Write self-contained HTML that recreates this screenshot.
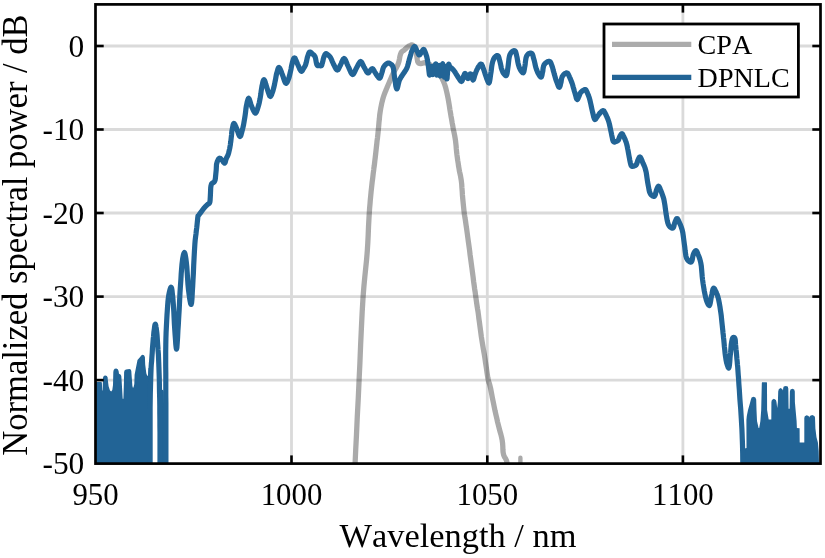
<!DOCTYPE html>
<html><head><meta charset="utf-8"><title>Spectrum</title>
<style>html,body{margin:0;padding:0;background:#fff}svg{display:block}</style></head>
<body>
<svg width="825" height="558" viewBox="0 0 825 558">
<defs><clipPath id="ax"><rect x="95.5" y="4.4" width="725.0" height="459.2"/></clipPath></defs>
<rect width="825" height="558" fill="#fff"/>
<g stroke="#dadada" stroke-width="2.8">
<line x1="291.5" y1="4.4" x2="291.5" y2="463.6"/>
<line x1="487.3" y1="4.4" x2="487.3" y2="463.6"/>
<line x1="682.9" y1="4.4" x2="682.9" y2="463.6"/>
<line x1="95.5" y1="46.0" x2="820.5" y2="46.0"/>
<line x1="95.5" y1="129.5" x2="820.5" y2="129.5"/>
<line x1="95.5" y1="213.0" x2="820.5" y2="213.0"/>
<line x1="95.5" y1="296.6" x2="820.5" y2="296.6"/>
<line x1="95.5" y1="380.1" x2="820.5" y2="380.1"/>
</g>
<g clip-path="url(#ax)" fill="none" stroke-linejoin="round" stroke-linecap="round">
<polyline points="354.8,470.0 354.9,468.3 354.9,466.8 355.0,465.2 355.1,463.4 355.2,461.0 355.7,450.0 356.5,434.5 357.3,416.4 358.3,397.6 359.1,380.0 359.9,363.0 360.6,345.5 361.4,328.1 362.2,311.6 363.1,296.5 363.9,286.5 364.8,277.1 365.7,268.3 366.6,259.6 367.3,251.0 367.8,243.0 368.2,235.0 368.5,227.2 368.9,219.7 369.3,212.9 369.6,208.3 370.0,204.0 370.3,200.0 370.7,195.9 371.1,191.8 371.6,187.3 372.1,182.6 372.7,178.1 373.2,173.8 373.7,170.0 373.9,168.0 374.2,166.3 374.4,164.6 374.6,162.9 374.8,161.0 375.2,157.9 375.6,154.4 376.0,150.7 376.4,147.1 376.8,143.6 377.1,140.6 377.5,137.8 377.8,134.9 378.1,132.1 378.4,129.1 378.7,125.7 379.0,122.1 379.4,118.6 379.7,115.0 380.2,111.6 380.7,108.6 381.3,105.6 381.9,102.6 382.6,99.8 383.4,97.0 384.2,94.6 385.1,92.2 386.1,89.9 387.0,87.6 388.0,85.3 389.0,82.9 390.0,80.6 391.0,78.2 392.0,75.9 393.1,73.6 394.2,71.5 395.3,69.5 396.4,67.6 397.4,65.6 398.3,63.5 399.0,61.2 399.5,58.8 399.9,56.4 400.5,54.2 401.2,52.5 401.8,51.8 402.4,51.2 403.1,50.8 403.8,50.3 404.5,49.8 405.3,49.1 406.1,48.3 406.9,47.6 407.7,46.9 408.6,46.3 409.4,45.8 410.3,45.4 411.1,45.0 412.0,44.9 412.7,45.0 413.5,45.7 414.3,47.0 414.9,48.6 415.5,50.3 416.0,52.0 416.5,54.2 416.9,56.8 417.3,59.4 417.7,61.6 418.5,63.0 419.0,63.3 419.6,63.5 420.3,63.6 420.9,63.5 421.5,63.5 422.1,63.4 422.6,63.2 423.2,63.0 423.8,62.8 424.4,62.7 425.1,62.7 425.8,62.8 426.6,63.0 427.3,63.2 428.0,63.5 428.7,63.8 429.4,64.3 430.1,64.7 430.8,65.2 431.6,65.8 432.8,66.7 434.1,67.6 435.5,68.6 436.8,69.8 438.0,71.0 439.1,72.5 440.1,74.2 441.0,76.0 441.8,77.8 442.6,79.5 443.2,80.7 443.7,81.9 444.1,83.0 444.6,84.2 445.0,85.5 445.6,87.4 446.1,89.4 446.6,91.5 447.1,93.7 447.6,96.0 448.2,99.1 448.8,102.5 449.4,106.1 449.9,109.6 450.5,113.0 451.0,116.2 451.6,119.3 452.1,122.4 452.7,125.5 453.2,128.4 453.7,130.9 454.2,133.3 454.7,135.7 455.1,138.0 455.5,140.5 455.8,143.2 456.1,146.0 456.3,148.8 456.6,151.7 456.9,154.5 457.3,157.4 457.7,160.4 458.2,163.4 458.6,166.3 459.1,169.1 459.5,171.5 460.0,173.7 460.5,175.9 460.9,178.2 461.3,180.7 461.7,184.0 461.9,187.5 462.2,191.1 462.4,194.7 462.7,198.2 463.0,201.3 463.3,204.3 463.6,207.3 463.9,210.1 464.2,212.7 464.4,214.4 464.7,216.0 464.9,217.5 465.2,219.1 465.5,221.0 466.0,224.6 466.6,228.6 467.2,233.0 467.8,237.5 468.4,241.8 469.0,246.1 469.6,250.5 470.1,254.9 470.7,259.2 471.3,263.6 471.9,268.0 472.5,272.6 473.1,277.0 473.6,281.4 474.2,285.5 474.6,288.7 475.1,291.7 475.5,294.7 475.9,297.6 476.3,300.5 476.7,303.3 477.1,306.0 477.5,308.7 478.0,311.5 478.4,314.5 478.9,318.6 479.5,322.9 480.1,327.4 480.7,331.9 481.3,336.4 482.0,340.8 482.7,345.1 483.4,349.4 484.2,353.8 484.9,358.2 485.6,363.0 486.4,368.2 487.1,373.2 487.8,377.6 488.5,381.0 488.8,382.0 489.0,382.7 489.3,383.3 489.5,384.0 489.8,385.0 490.6,388.3 491.4,392.5 492.3,397.4 493.3,402.3 494.2,406.8 495.0,410.7 495.9,414.6 496.8,418.4 497.6,422.1 498.5,425.7 499.3,428.7 500.1,431.7 500.9,434.5 501.6,437.4 502.2,440.3 502.6,443.3 502.8,446.4 502.9,449.5 503.1,452.3 503.6,454.8 504.1,456.1 504.7,457.3 505.4,458.3 506.0,459.4 506.5,460.6 506.9,462.3 507.3,464.2 507.5,466.1 507.7,468.1 508.0,470.0" stroke="#000" stroke-opacity="0.335" stroke-width="5.3"/>
<polyline points="520.4,470.0 520.4,457.8 520.4,470.0" stroke="#000" stroke-opacity="0.335" stroke-width="4.4"/>
<polygon points="95.5,470.0 95.5,381.9 101.5,381.9 101.9,383.0 102.2,390.5 102.6,390.5 103.0,378.0 103.3,376.8 104.2,375.8 105.5,375.5 106.8,375.9 107.6,377.3 107.9,380.4 108.6,386.3 110.0,390.5 111.2,391.6 112.3,390.0 113.0,385.0 113.3,372.0 113.7,370.0 114.7,368.8 116.3,368.5 117.8,369.2 118.6,371.0 119.0,373.8 120.5,374.5 121.3,376.0 121.6,380.0 122.7,398.8 123.4,398.8 124.0,380.0 124.1,372.0 124.7,370.2 126.0,369.4 129.5,369.1 130.7,369.6 131.3,371.0 131.7,376.7 132.4,386.0 133.0,388.1 133.6,387.0 134.3,384.0 134.6,374.7 136.0,367.4 137.5,360.0 140.1,357.1 141.5,355.2 142.6,354.7 144.0,355.2 144.9,357.1 145.2,364.4 146.3,373.2 147.2,375.8 147.9,375.8 148.5,368.0 151.0,368.0 150.5,470.0" fill="#226496" stroke="none"/>
<polygon points="743.0,470.0 743.0,449.0 746.5,448.0 746.4,420.0 746.8,416.0 748.0,410.0 750.0,403.0 750.9,399.5 751.6,397.6 753.5,396.7 755.4,397.6 756.2,399.5 756.5,410.0 757.0,421.0 758.6,428.0 759.2,428.0 760.4,421.0 761.2,410.0 761.8,383.5 762.0,382.3 766.8,382.3 767.0,383.5 767.1,410.0 768.7,419.4 771.3,419.4 771.4,402.0 771.9,400.0 773.9,398.8 775.9,400.0 776.5,402.0 777.2,408.1 777.9,402.0 778.2,391.5 778.8,389.3 780.5,388.1 782.2,389.0 783.0,390.5 783.2,388.0 783.8,386.5 785.8,385.9 787.7,386.5 788.3,388.5 788.6,408.8 789.6,408.8 789.9,391.5 790.5,389.6 792.4,388.7 794.2,389.6 794.8,391.5 794.9,402.0 795.6,410.0 796.6,421.0 796.9,428.0 799.6,428.2 799.7,442.4 804.3,442.4 804.3,418.0 804.8,416.2 806.7,415.3 808.6,416.0 809.3,417.5 809.9,416.0 812.2,415.1 814.4,416.0 815.0,417.6 815.4,428.4 816.5,437.2 817.9,442.4 818.7,451.0 819.2,470.0" fill="#226496" stroke="none"/>
<polyline points="160.8,490.0 161.2,392.0 162.8,490.0" stroke="#226496" stroke-width="5.2"/>
<polyline points="150.0,490.0 150.0,479.9 150.0,469.7 150.1,459.6 150.1,449.6 150.1,440.0 150.1,431.8 150.1,423.9 150.1,416.1 150.1,408.5 150.2,401.0 150.3,393.9 150.5,386.5 150.7,379.4 150.9,373.1 151.1,368.0 151.2,366.1 151.3,364.6 151.4,363.2 151.6,361.7 151.7,360.0 151.9,356.8 152.2,353.1 152.4,349.3 152.7,345.5 153.0,342.0 153.2,339.4 153.5,336.8 153.7,334.4 153.9,332.1 154.2,330.0 154.4,328.5 154.6,326.9 154.8,325.5 155.1,324.5 155.3,324.1 155.5,324.5 155.8,325.5 156.0,326.9 156.3,328.5 156.5,330.0 156.8,332.6 157.1,335.6 157.3,338.8 157.5,342.0 157.7,345.0 157.9,347.4 158.0,349.7 158.2,351.9 158.4,354.3 158.5,357.0 158.7,361.8 158.9,367.2 159.1,373.0 159.3,379.0 159.4,385.0 159.5,391.8 159.7,398.8 159.8,406.0 159.8,413.1 159.9,420.0 159.9,426.1 160.0,432.0 160.0,437.8 160.0,443.8 160.0,450.0 160.0,457.6 160.0,465.6 160.0,473.7 160.0,481.9 160.0,490.0" stroke="#226496" stroke-width="5.2"/>
<polyline points="165.9,490.0 165.9,475.7 165.9,461.1 165.9,446.6 165.9,432.8 165.9,420.0 165.9,411.2 165.9,403.1 165.8,395.3 165.8,387.7 165.8,380.0 165.8,372.8 165.7,365.7 165.7,358.7 165.7,351.8 165.8,345.0 165.9,338.8 166.1,332.5 166.4,326.4 166.7,320.6 167.0,315.0 167.3,310.6 167.6,306.3 167.9,302.1 168.3,298.3 168.8,295.0 169.2,292.9 169.7,290.8 170.2,289.0 170.7,287.7 171.1,287.2 171.6,288.1 172.0,290.2 172.3,293.3 172.7,296.7 173.0,300.0 173.4,305.3 173.8,311.4 174.1,317.9 174.4,324.2 174.8,330.0 175.1,334.7 175.5,339.8 175.8,344.5 176.2,347.9 176.5,349.2 176.9,347.6 177.2,343.3 177.6,337.4 177.9,331.0 178.3,325.0 178.7,317.5 179.2,309.3 179.6,300.8 180.0,292.6 180.5,285.0 180.9,279.4 181.2,273.9 181.6,268.7 182.0,264.0 182.5,260.0 182.8,258.0 183.2,255.9 183.6,254.2 184.0,253.0 184.4,252.5 184.8,253.1 185.2,254.7 185.6,256.9 186.0,259.5 186.3,262.0 186.8,266.8 187.2,272.6 187.6,278.8 188.0,284.8 188.5,290.0 189.0,293.7 189.5,297.5 190.1,301.0 190.6,303.5 191.1,304.4 191.6,302.7 192.0,298.4 192.3,292.4 192.7,286.0 193.0,280.0 193.4,272.9 193.7,265.2 194.1,257.4 194.5,250.0 194.9,243.6 195.2,240.0 195.6,236.8 196.0,233.8 196.3,230.9 196.7,228.0 197.0,225.2 197.3,222.2 197.6,219.4 197.8,217.2 198.1,216.0 198.1,215.9 198.2,215.9 198.2,215.9 198.2,215.9 198.3,215.8 198.9,215.0 199.9,213.6 201.2,211.9 202.5,210.1 203.6,208.7 204.4,207.7 205.2,206.8 206.0,205.9 206.8,205.2 207.5,204.5 207.9,204.2 208.4,203.9 208.8,203.7 209.2,203.4 209.5,203.0 209.9,201.9 210.1,200.4 210.2,198.6 210.3,196.8 210.4,195.0 210.5,192.8 210.6,190.3 210.7,187.9 211.0,185.7 211.5,184.0 212.0,183.4 212.7,182.9 213.3,182.6 214.0,182.1 214.5,181.5 215.1,180.0 215.4,178.2 215.6,176.1 215.8,174.0 216.0,172.0 216.2,170.1 216.3,168.1 216.4,166.2 216.5,164.4 216.9,162.8 217.3,161.6 217.8,160.4 218.3,159.4 218.9,158.6 219.5,158.2 220.0,158.3 220.5,158.5 221.0,159.0 221.5,159.5 222.0,160.0 222.5,160.7 223.1,161.5 223.6,162.3 224.1,162.9 224.5,163.1 225.0,162.7 225.4,161.7 225.7,160.4 226.1,159.1 226.5,158.0 226.8,157.3 227.2,156.7 227.5,156.2 227.8,155.5 228.1,154.8 228.5,153.5 228.9,151.9 229.3,150.2 229.7,148.5 230.0,146.8 230.3,145.1 230.5,143.3 230.8,141.5 231.0,139.8 231.2,138.0 231.4,136.2 231.6,134.5 231.7,132.7 231.9,131.0 232.2,129.4 232.5,127.9 232.8,126.4 233.1,124.9 233.5,123.8 233.9,123.4 234.4,123.8 235.1,124.9 235.7,126.4 236.4,128.0 237.0,129.5 237.6,131.1 238.2,132.9 238.8,134.7 239.4,136.0 240.0,136.5 240.6,136.0 241.1,134.7 241.6,132.8 242.1,130.9 242.6,129.0 243.1,126.9 243.6,124.6 244.0,122.3 244.4,119.9 244.8,117.5 245.2,114.8 245.6,111.9 245.9,109.0 246.3,106.3 246.8,104.0 247.1,102.5 247.5,101.0 247.9,99.6 248.3,98.7 248.7,98.3 249.2,98.9 249.7,100.3 250.3,102.2 250.9,104.2 251.5,106.0 252.2,107.7 253.0,109.6 253.9,111.4 254.7,112.7 255.4,113.2 255.9,112.8 256.4,111.9 256.9,110.7 257.4,109.3 257.8,108.0 258.3,106.3 258.8,104.5 259.3,102.6 259.7,100.6 260.1,98.6 260.5,96.1 260.9,93.5 261.2,90.8 261.6,88.3 262.0,86.0 262.4,84.4 262.7,82.7 263.1,81.2 263.6,80.1 264.0,79.7 264.5,80.3 265.1,81.8 265.7,83.9 266.4,86.1 267.0,88.0 267.6,90.0 268.3,92.2 269.0,94.3 269.7,95.9 270.3,96.5 270.8,96.2 271.2,95.4 271.7,94.3 272.1,93.1 272.5,92.0 273.0,90.6 273.4,89.1 273.8,87.5 274.2,85.8 274.6,84.1 275.0,81.9 275.5,79.6 275.9,77.2 276.3,75.0 276.8,73.0 277.2,71.6 277.6,70.1 278.0,68.7 278.5,67.8 279.0,67.4 279.6,67.9 280.3,69.3 281.1,71.2 281.8,73.2 282.5,75.0 283.2,76.9 283.9,79.1 284.6,81.2 285.3,82.8 286.0,83.4 286.5,83.1 287.0,82.4 287.6,81.3 288.0,80.1 288.5,79.0 289.0,77.6 289.4,76.0 289.8,74.4 290.2,72.7 290.6,71.0 291.0,69.2 291.3,67.3 291.7,65.4 292.1,63.6 292.5,62.0 292.9,60.9 293.2,59.8 293.6,58.8 294.1,58.1 294.5,57.8 295.1,58.2 295.6,59.4 296.2,60.9 296.9,62.5 297.5,64.0 298.3,65.7 299.1,67.6 299.9,69.4 300.7,70.7 301.4,71.3 301.8,71.1 302.3,70.6 302.7,69.9 303.1,69.2 303.5,68.5 303.9,67.9 304.3,67.2 304.7,66.6 305.1,65.8 305.5,65.0 306.0,63.4 306.5,61.5 306.9,59.5 307.3,57.6 307.8,56.0 308.2,55.0 308.5,53.9 308.9,53.0 309.3,52.3 309.8,52.0 310.3,52.1 310.8,52.4 311.3,52.8 311.8,53.3 312.3,53.8 312.8,54.2 313.4,54.7 313.9,55.2 314.4,55.7 314.9,56.4 315.5,58.1 315.9,60.3 316.3,62.6 316.8,64.5 317.4,65.6 317.7,65.7 318.1,65.7 318.5,65.6 318.8,65.4 319.2,65.4 319.6,65.5 320.0,65.6 320.5,65.8 320.9,65.9 321.2,65.8 321.6,65.4 321.9,64.7 322.1,63.8 322.4,62.9 322.6,62.0 322.9,61.0 323.1,60.0 323.3,58.9 323.6,57.9 323.9,57.0 324.2,56.2 324.6,55.4 324.9,54.6 325.4,54.0 325.8,53.7 326.2,53.7 326.6,53.9 327.1,54.3 327.6,54.6 328.0,55.0 328.5,55.3 328.9,55.7 329.3,56.0 329.8,56.5 330.2,57.0 330.9,58.2 331.6,59.8 332.3,61.5 333.1,63.3 333.8,64.8 334.5,66.1 335.2,67.5 335.9,68.8 336.6,69.7 337.3,70.1 338.0,69.7 338.6,68.8 339.2,67.6 339.9,66.2 340.5,65.0 341.2,63.5 341.9,61.8 342.6,60.2 343.3,59.0 344.0,58.5 344.8,59.0 345.6,60.4 346.4,62.2 347.2,64.2 348.0,66.0 348.9,67.9 349.9,70.2 350.8,72.3 351.8,73.9 352.7,74.5 353.5,74.0 354.2,72.8 355.0,71.2 355.7,69.5 356.5,68.0 357.3,66.5 358.2,64.8 359.0,63.2 359.9,62.0 360.7,61.5 361.4,61.9 362.0,62.9 362.7,64.3 363.3,65.7 364.0,67.0 364.8,68.4 365.6,69.9 366.4,71.4 367.2,72.5 368.0,73.0 368.5,72.8 368.9,72.4 369.3,71.7 369.8,71.0 370.2,70.5 370.6,70.0 371.1,69.5 371.5,69.1 371.9,68.8 372.4,68.7 373.1,69.2 373.8,70.2 374.5,71.5 375.3,72.8 376.0,74.0 376.7,75.0 377.5,76.2 378.3,77.2 379.0,78.0 379.6,78.2 380.1,77.8 380.6,76.8 381.0,75.6 381.4,74.2 381.8,73.0 382.2,71.7 382.6,70.3 382.9,68.9 383.4,67.6 384.0,66.5 384.7,65.6 385.5,64.7 386.4,63.9 387.3,63.3 388.2,63.1 389.1,63.2 390.0,63.6 390.9,64.2 391.8,64.9 392.5,65.8 393.2,67.5 393.7,69.6 393.9,72.1 394.2,74.6 394.5,77.0 394.9,79.7 395.4,82.9 395.8,85.8 396.3,88.0 396.8,88.9 397.3,88.2 397.8,86.5 398.3,84.2 398.9,81.8 399.5,80.0 399.9,79.1 400.4,78.3 400.8,77.5 401.3,76.8 401.8,76.0 402.3,75.2 402.9,74.4 403.4,73.6 404.0,72.8 404.5,72.0 405.0,71.2 405.5,70.5 406.0,69.8 406.4,68.9 406.9,68.0 407.5,66.3 408.1,64.2 408.7,62.0 409.2,59.8 409.8,57.8 410.3,56.1 410.8,54.4 411.2,52.8 411.7,51.3 412.3,50.0 412.7,49.1 413.2,48.1 413.7,47.3 414.1,46.7 414.6,46.5 415.1,46.8 415.6,47.7 416.0,48.8 416.5,50.0 417.0,51.0 417.5,51.9 417.9,53.0 418.4,54.0 418.8,54.7 419.3,55.0 419.7,54.8 420.2,54.2 420.6,53.5 421.1,52.7 421.5,52.0 421.9,51.4 422.4,50.7 422.8,50.0 423.2,49.6 423.6,49.4 424.0,49.7 424.4,50.3 424.8,51.1 425.2,52.1 425.5,53.0 425.9,54.1 426.3,55.3 426.7,56.6 427.0,57.9 427.3,59.3 427.6,61.0 427.9,62.7 428.1,64.5 428.4,66.3 428.6,68.0 428.8,69.7 429.0,71.5 429.2,73.2 429.4,74.5 429.6,75.0 429.8,74.6 430.1,73.7 430.3,72.4 430.5,71.1 430.8,70.0 431.0,69.1 431.2,68.2 431.5,67.4 431.7,66.7 431.9,66.5 432.2,67.3 432.4,69.3 432.6,71.7 432.8,73.7 433.0,74.5 433.2,74.0 433.5,72.8 433.7,71.1 434.0,69.4 434.3,68.0 434.6,67.0 434.9,65.9 435.2,64.9 435.5,64.2 435.8,63.9 436.1,65.1 436.4,67.8 436.6,71.1 436.8,73.8 437.0,75.0 437.2,74.3 437.4,72.6 437.7,70.5 437.9,68.4 438.2,67.0 438.4,66.6 438.5,66.1 438.7,65.8 438.8,65.6 439.0,65.5 439.3,66.6 439.6,69.2 439.8,72.3 440.0,74.9 440.2,76.0 440.4,75.3 440.6,73.5 440.8,71.1 441.1,68.8 441.4,67.0 441.6,66.1 441.9,65.3 442.2,64.5 442.5,64.0 442.7,63.8 443.0,64.6 443.3,66.4 443.5,68.7 443.6,71.1 443.8,73.0 443.9,74.0 444.0,75.1 444.1,76.1 444.2,76.7 444.3,77.0 444.5,76.1 444.6,73.8 444.8,71.0 445.1,68.5 445.4,67.0 445.5,66.8 445.6,66.7 445.8,66.5 445.9,66.5 446.0,66.5 446.3,67.9 446.5,71.0 446.6,74.7 446.7,77.7 446.9,79.0 447.1,78.3 447.2,76.6 447.4,74.3 447.6,72.0 447.8,70.0 448.0,68.6 448.1,67.0 448.3,65.7 448.5,64.6 448.7,64.2 448.9,64.4 449.1,65.0 449.4,65.7 449.7,66.5 450.0,67.0 450.2,67.2 450.5,67.4 450.7,67.5 451.0,67.6 451.3,67.8 451.8,68.3 452.4,68.9 453.0,69.5 453.6,70.2 454.2,71.0 455.0,72.1 455.7,73.3 456.5,74.6 457.2,75.8 458.0,77.0 458.7,78.1 459.5,79.3 460.2,80.4 460.9,81.2 461.5,81.5 461.9,81.1 462.3,80.3 462.6,79.2 463.0,78.0 463.3,77.0 463.7,76.1 464.0,75.2 464.4,74.3 464.7,73.7 465.1,73.4 465.4,73.6 465.7,74.2 466.0,75.0 466.3,75.8 466.6,76.5 466.9,77.0 467.2,77.6 467.4,78.1 467.7,78.5 468.0,78.6 468.3,78.4 468.5,77.9 468.8,77.3 469.0,76.6 469.3,76.0 469.5,75.5 469.8,74.9 470.0,74.3 470.3,73.9 470.5,73.8 470.8,74.0 471.0,74.6 471.3,75.4 471.5,76.3 471.8,77.0 472.1,77.7 472.3,78.5 472.6,79.2 472.8,79.8 473.1,80.0 473.4,79.6 473.8,78.7 474.2,77.5 474.5,76.2 474.9,75.0 475.2,74.0 475.6,73.0 475.9,72.1 476.3,71.1 476.7,70.2 477.1,69.3 477.6,68.4 478.0,67.5 478.5,66.7 479.0,66.0 479.4,65.5 479.8,64.9 480.3,64.4 480.7,64.1 481.1,64.0 481.6,64.4 482.1,65.3 482.6,66.4 483.0,67.8 483.5,69.0 484.1,70.7 484.7,72.5 485.3,74.5 485.9,76.3 486.5,78.0 487.0,79.3 487.5,80.6 488.0,81.8 488.5,82.7 488.9,83.0 489.4,82.3 489.7,80.7 490.1,78.5 490.4,76.2 490.7,74.0 491.1,71.6 491.4,69.1 491.7,66.5 492.1,64.1 492.6,62.0 493.0,60.8 493.4,59.7 493.9,58.6 494.4,57.7 495.0,57.0 495.5,56.5 496.1,56.0 496.7,55.7 497.2,55.5 497.7,55.5 498.2,56.0 498.7,57.0 499.1,58.3 499.4,59.7 499.8,61.0 500.2,62.6 500.6,64.4 501.0,66.2 501.3,68.0 501.8,69.5 502.2,70.5 502.6,71.5 503.0,72.5 503.5,73.3 504.0,74.0 504.4,74.5 504.9,75.0 505.4,75.4 505.8,75.7 506.2,75.7 506.7,74.9 507.1,73.4 507.4,71.3 507.7,69.1 508.0,67.0 508.3,64.6 508.6,62.0 508.9,59.3 509.3,56.9 509.8,55.0 510.2,54.1 510.7,53.3 511.2,52.6 511.7,52.0 512.3,51.5 512.8,51.2 513.4,50.9 513.9,50.7 514.4,50.7 514.9,50.8 515.4,51.3 515.8,52.3 516.1,53.5 516.4,54.7 516.7,56.0 517.1,57.7 517.4,59.5 517.7,61.4 518.1,63.3 518.5,65.0 518.9,66.2 519.3,67.4 519.8,68.6 520.3,69.6 520.8,70.5 521.3,71.2 521.8,71.8 522.3,72.4 522.8,72.7 523.2,72.8 523.7,72.2 524.0,71.0 524.3,69.4 524.6,67.6 524.9,66.0 525.2,64.1 525.4,62.0 525.7,59.9 526.0,58.0 526.5,56.4 526.9,55.6 527.4,54.9 527.9,54.3 528.4,53.9 529.0,53.5 529.5,53.3 530.0,53.1 530.6,53.1 531.1,53.1 531.6,53.3 532.2,54.0 532.7,55.0 533.1,56.3 533.4,57.7 533.8,59.0 534.3,60.7 534.7,62.5 535.1,64.4 535.5,66.3 536.0,68.0 536.4,69.3 536.9,70.6 537.4,71.8 537.9,73.0 538.5,74.0 539.0,74.8 539.6,75.7 540.1,76.5 540.6,77.0 541.1,77.2 541.5,76.8 541.8,75.8 542.1,74.6 542.3,73.2 542.6,72.0 542.9,70.6 543.0,69.1 543.3,67.6 543.5,66.2 544.0,65.0 544.5,64.2 545.1,63.5 545.7,62.9 546.3,62.4 547.0,62.0 547.6,61.7 548.1,61.5 548.7,61.4 549.3,61.4 549.8,61.5 550.4,62.0 550.8,62.8 551.2,63.8 551.6,64.9 552.0,66.0 552.5,67.4 552.9,68.9 553.3,70.6 553.8,72.2 554.2,73.8 554.7,75.5 555.2,77.2 555.7,78.9 556.2,80.5 556.8,82.0 557.3,83.3 557.8,84.7 558.3,86.0 558.8,87.0 559.3,87.3 559.6,87.0 560.0,86.2 560.3,85.2 560.5,84.1 560.8,83.0 561.1,81.8 561.3,80.4 561.5,79.1 561.8,77.8 562.2,76.7 562.7,75.9 563.2,75.2 563.8,74.5 564.4,73.9 565.0,73.5 565.4,73.3 565.9,73.1 566.3,72.9 566.8,72.9 567.2,73.0 567.7,73.4 568.2,74.2 568.6,75.1 569.1,76.0 569.5,77.0 570.0,78.1 570.5,79.2 571.0,80.4 571.5,81.7 572.0,83.0 572.6,84.8 573.1,86.7 573.7,88.7 574.2,90.7 574.8,92.5 575.3,94.2 575.8,96.0 576.2,97.7 576.7,99.0 577.2,99.5 577.5,99.3 577.9,98.8 578.2,98.0 578.6,97.2 578.9,96.5 579.2,95.8 579.5,95.1 579.7,94.3 580.0,93.6 580.4,93.0 580.8,92.4 581.3,91.9 581.9,91.3 582.4,90.9 583.0,90.5 583.5,90.2 584.0,89.9 584.5,89.7 585.0,89.5 585.5,89.6 586.0,90.0 586.4,90.7 586.8,91.6 587.2,92.6 587.6,93.5 588.1,94.6 588.5,95.8 589.0,97.0 589.4,98.3 589.8,99.7 590.3,101.8 590.8,104.0 591.3,106.4 591.8,108.8 592.3,111.0 592.8,113.0 593.3,115.2 593.8,117.3 594.3,118.8 594.9,119.5 595.2,119.4 595.6,119.1 596.0,118.6 596.3,118.0 596.7,117.5 597.1,117.0 597.4,116.5 597.8,116.0 598.1,115.5 598.5,115.0 599.0,114.4 599.4,113.7 600.0,113.1 600.5,112.5 601.0,112.0 601.5,111.6 601.9,111.2 602.4,110.8 602.9,110.6 603.3,110.6 603.9,111.0 604.4,111.8 605.0,112.8 605.5,113.9 606.0,115.0 606.6,116.2 607.1,117.4 607.7,118.7 608.2,120.0 608.7,121.5 609.3,123.6 609.8,125.9 610.3,128.3 610.8,130.7 611.3,133.0 611.7,135.1 612.2,137.3 612.6,139.4 613.1,141.1 613.8,142.0 614.2,142.1 614.6,142.1 615.1,141.9 615.6,141.7 616.0,141.5 616.4,141.3 616.9,141.2 617.3,141.0 617.7,140.7 618.1,140.4 618.6,139.7 618.9,138.8 619.3,137.8 619.6,136.8 620.0,136.0 620.4,135.4 620.8,134.8 621.2,134.2 621.6,133.8 622.0,133.7 622.5,134.0 622.9,134.7 623.3,135.6 623.8,136.6 624.2,137.5 624.7,138.6 625.2,139.7 625.6,140.9 626.1,142.1 626.5,143.4 626.9,145.0 627.3,146.7 627.6,148.5 628.0,150.3 628.3,152.0 628.6,153.7 628.9,155.4 629.2,157.0 629.5,158.6 629.8,160.2 630.1,161.6 630.4,163.1 630.8,164.5 631.2,165.6 631.8,166.3 632.2,166.4 632.6,166.4 633.1,166.3 633.6,166.2 634.0,166.0 634.5,165.8 634.9,165.7 635.4,165.5 635.8,165.2 636.2,164.8 636.7,164.1 637.0,163.1 637.3,162.0 637.6,160.9 638.0,160.0 638.4,159.2 638.7,158.4 639.1,157.7 639.5,157.2 639.9,157.0 640.4,157.4 640.9,158.2 641.5,159.4 642.0,160.8 642.5,162.0 643.1,163.4 643.8,164.9 644.5,166.5 645.1,168.2 645.6,170.0 646.2,172.4 646.6,175.0 647.0,177.8 647.4,180.5 647.8,183.0 648.2,185.2 648.6,187.4 649.0,189.6 649.4,191.5 650.0,193.0 650.4,193.7 650.8,194.4 651.2,194.9 651.7,195.3 652.2,195.7 652.6,196.0 653.1,196.2 653.6,196.4 654.0,196.4 654.4,196.3 654.9,195.6 655.4,194.4 655.7,192.8 656.1,191.3 656.5,190.0 656.9,189.0 657.3,188.0 657.7,187.1 658.1,186.5 658.5,186.2 659.0,186.5 659.5,187.4 660.0,188.5 660.5,189.8 661.0,191.0 661.6,192.5 662.2,194.1 662.8,195.8 663.4,197.6 663.9,199.5 664.4,202.2 664.9,205.1 665.3,208.2 665.7,211.2 666.1,214.0 666.5,216.3 666.9,218.7 667.3,220.9 667.8,222.9 668.4,224.5 668.8,225.2 669.2,225.9 669.6,226.4 670.0,226.9 670.5,227.3 671.0,227.6 671.5,227.9 672.0,228.1 672.5,228.2 672.9,228.1 673.4,227.4 673.9,226.2 674.2,224.7 674.6,223.2 675.0,222.0 675.4,221.1 675.8,220.2 676.2,219.3 676.6,218.7 677.0,218.5 677.5,218.8 678.0,219.6 678.5,220.7 679.0,221.9 679.5,223.0 680.1,224.2 680.7,225.5 681.2,226.9 681.7,228.4 682.2,230.0 682.8,232.6 683.2,235.4 683.6,238.5 684.0,241.5 684.4,244.5 684.8,247.4 685.1,250.4 685.5,253.4 685.9,256.0 686.5,258.0 686.9,258.8 687.3,259.5 687.7,260.1 688.2,260.6 688.7,261.0 689.2,261.4 689.7,261.7 690.2,262.0 690.7,262.1 691.2,262.0 691.8,261.1 692.3,259.5 692.6,257.5 693.0,255.6 693.5,254.0 693.9,253.1 694.4,252.2 694.9,251.4 695.4,250.8 695.9,250.6 696.4,250.9 696.9,251.7 697.4,252.7 697.8,253.9 698.3,255.0 698.9,256.4 699.4,257.9 699.9,259.4 700.4,261.2 700.8,263.0 701.3,266.0 701.6,269.3 701.9,272.9 702.2,276.5 702.6,280.0 703.1,283.6 703.7,287.3 704.3,291.0 705.0,294.4 705.6,297.2 706.0,298.6 706.3,299.9 706.7,301.0 707.1,302.1 707.5,303.0 707.8,303.7 708.2,304.4 708.6,305.0 709.0,305.4 709.3,305.5 709.8,304.7 710.3,302.9 710.7,300.6 711.1,298.1 711.5,296.0 711.9,294.2 712.3,292.1 712.7,290.2 713.1,288.8 713.6,288.2 714.0,288.4 714.5,288.9 714.9,289.8 715.4,290.7 715.8,291.5 716.3,292.5 716.7,293.5 717.2,294.6 717.6,295.8 718.0,297.2 718.7,299.9 719.3,303.0 719.9,306.4 720.4,309.9 720.9,313.2 721.3,316.2 721.6,319.2 721.9,322.2 722.2,325.1 722.5,328.0 722.8,330.5 723.0,332.8 723.3,335.1 723.5,337.5 723.8,340.0 724.1,343.2 724.4,346.7 724.8,350.2 725.1,353.5 725.5,356.4 725.8,358.2 726.0,359.8 726.3,361.3 726.6,362.7 727.0,364.0 727.3,365.0 727.7,366.1 728.0,367.1 728.4,367.8 728.7,368.0 729.1,367.0 729.5,364.6 729.8,361.4 730.0,358.0 730.3,355.0 730.6,352.5 730.8,349.9 731.0,347.4 731.2,345.0 731.5,343.0 731.7,341.8 731.9,340.7 732.1,339.7 732.3,338.8 732.6,338.2 732.8,337.9 733.0,337.7 733.2,337.5 733.5,337.4 733.7,337.4 733.9,337.4 734.2,337.5 734.4,337.7 734.6,337.9 734.8,338.2 735.1,339.1 735.3,340.3 735.4,341.8 735.5,343.4 735.6,345.0 735.8,347.1 736.0,349.3 736.3,351.6 736.5,354.0 736.7,356.4 736.9,359.0 737.2,361.6 737.4,364.2 737.7,367.0 737.9,370.0 738.2,374.4 738.6,379.3 738.9,384.3 739.3,389.4 739.6,394.4 739.9,399.2 740.3,404.1 740.7,408.9 741.0,413.8 741.3,418.7 741.6,423.8 741.9,428.8 742.1,433.9 742.3,439.3 742.5,445.0 742.7,453.2 742.8,462.1 742.8,471.4 742.8,480.8 742.9,490.0" stroke="#226496" stroke-width="5.2"/>
</g>
<g stroke="#000" stroke-width="2.6">
<line x1="291.5" y1="463.6" x2="291.5" y2="455.4"/>
<line x1="291.5" y1="4.4" x2="291.5" y2="12.6"/>
<line x1="487.3" y1="463.6" x2="487.3" y2="455.4"/>
<line x1="487.3" y1="4.4" x2="487.3" y2="12.6"/>
<line x1="682.9" y1="463.6" x2="682.9" y2="455.4"/>
<line x1="682.9" y1="4.4" x2="682.9" y2="12.6"/>
<line x1="95.5" y1="46.0" x2="103.7" y2="46.0"/>
<line x1="820.5" y1="46.0" x2="812.3" y2="46.0"/>
<line x1="95.5" y1="129.5" x2="103.7" y2="129.5"/>
<line x1="820.5" y1="129.5" x2="812.3" y2="129.5"/>
<line x1="95.5" y1="213.0" x2="103.7" y2="213.0"/>
<line x1="820.5" y1="213.0" x2="812.3" y2="213.0"/>
<line x1="95.5" y1="296.6" x2="103.7" y2="296.6"/>
<line x1="820.5" y1="296.6" x2="812.3" y2="296.6"/>
<line x1="95.5" y1="380.1" x2="103.7" y2="380.1"/>
<line x1="820.5" y1="380.1" x2="812.3" y2="380.1"/>
</g>
<rect x="95.5" y="4.4" width="725.0" height="459.2" fill="none" stroke="#000" stroke-width="2.7"/>
<rect x="604" y="24" width="194.4" height="73" fill="#fff" stroke="#000" stroke-width="2.8"/>
<line x1="612" y1="44.3" x2="691.3" y2="44.3" stroke="#ababab" stroke-width="5.2"/>
<line x1="612" y1="77.4" x2="691.3" y2="77.4" stroke="#226496" stroke-width="5.2"/>
<g font-family="'Liberation Serif', serif" fill="#000" style="font-kerning:none">
<text x="697.6" y="54" font-size="28.1">CPA</text>
<text x="697.6" y="87" font-size="28.1">DPNLC</text>
<text x="95.5" y="505.4" font-size="30.8" text-anchor="middle">950</text>
<text x="291.5" y="505.4" font-size="30.8" text-anchor="middle">1000</text>
<text x="487.3" y="505.4" font-size="30.8" text-anchor="middle">1050</text>
<text x="682.9" y="505.4" font-size="30.8" text-anchor="middle">1100</text>
<text x="84.3" y="56.7" font-size="31.4" text-anchor="end">0</text>
<text x="84.3" y="140.2" font-size="31.4" text-anchor="end">-10</text>
<text x="84.3" y="223.7" font-size="31.4" text-anchor="end">-20</text>
<text x="84.3" y="307.3" font-size="31.4" text-anchor="end">-30</text>
<text x="84.3" y="390.8" font-size="31.4" text-anchor="end">-40</text>
<text x="84.3" y="474.3" font-size="31.4" text-anchor="end">-50</text>
<text x="339.6" y="547.3" font-size="34.4">Wavelength / nm</text>
<text transform="translate(26.7 455.7) rotate(-90) scale(1.0046 1.045)" font-size="34.4">Normalized spectral power / dB</text>
</g>
</svg>
</body></html>
